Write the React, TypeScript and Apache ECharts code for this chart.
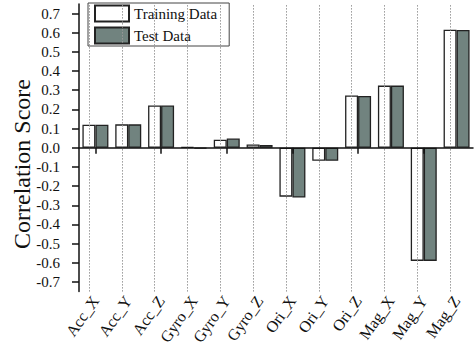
import React, { useEffect, useRef } from "react";
import * as echarts from "echarts";

const categories = ["Acc_X", "Acc_Y", "Acc_Z", "Gyro_X", "Gyro_Y", "Gyro_Z", "Ori_X", "Ori_Y", "Ori_Z", "Mag_X", "Mag_Y", "Mag_Z"];
const trainingData = [0.12, 0.122, 0.22, 0.003, 0.042, 0.017, -0.255, -0.068, 0.273, 0.324, -0.59, 0.615];
const testData = [0.12, 0.122, 0.22, -0.004, 0.048, 0.014, -0.26, -0.068, 0.27, 0.324, -0.59, 0.614];
const seriesNames = ["Training Data", "Test Data"];
const yAxisTitle = "Correlation Score";
const tickMin = -0.7;
const tickMax = 0.7;
const tickStep = 0.1;

const SERIF = '"Liberation Serif", "Times New Roman", serif';

export default function App() {
  const ref = useRef<HTMLDivElement>(null);
  useEffect(() => {
    if (!ref.current) return;
    const chart = echarts.init(ref.current, null, { renderer: "svg" });
    const option = {
      animation: false,
      backgroundColor: "#fff",
      grid: [
        { left: 79, right: 1, top: 3.9, bottom: 60.4 },
        { left: 79, right: 1, top: 13.5, bottom: 70 },
      ],
      legend: {
        data: seriesNames,
        orient: "vertical",
        left: 88,
        top: 3,
        itemWidth: 34,
        itemHeight: 16,
        itemGap: 4,
        padding: [1.5, 12, 1.5, 6],
        borderColor: "#444",
        borderWidth: 1,
        backgroundColor: "#fff",
        icon: "rect",
        textStyle: { fontFamily: SERIF, fontSize: 15, color: "#111" },
        selectedMode: false,
      },
      xAxis: [
        {
          type: "category",
          gridIndex: 0,
          data: categories,
          axisLine: { show: true, onZero: true, lineStyle: { color: "#111", width: 1.5 } },
          axisTick: { show: true, alignWithLabel: true, length: 6, lineStyle: { color: "#111", width: 1.5 } },
          axisLabel: { show: false },
          splitLine: { show: false },
          z: 5,
        },
        {
          type: "category",
          gridIndex: 0,
          position: "bottom",
          data: categories,
          axisLine: { show: false, onZero: false },
          axisTick: { show: false },
          axisLabel: { show: true, rotate: 55, fontFamily: SERIF, fontSize: 16, color: "#111", margin: 6, interval: 0 },
          splitLine: { show: false },
        },
        {
          type: "category",
          gridIndex: 1,
          data: categories,
          show: false,
        },
      ],
      yAxis: [
        {
          type: "value",
          gridIndex: 0,
          min: -0.75,
          max: 0.75,
          axisLine: { show: true, onZero: false, lineStyle: { color: "#111", width: 1.5 } },
          axisTick: { show: false },
          axisLabel: { show: false },
          splitLine: { show: false },
        },
        {
          type: "value",
          gridIndex: 1,
          min: tickMin,
          max: tickMax,
          interval: tickStep,
          axisLine: { show: false, onZero: false },
          axisTick: { show: true, length: 7, lineStyle: { color: "#111", width: 1.5 } },
          axisLabel: {
            show: true,
            margin: 19,
            fontFamily: SERIF,
            fontSize: 15,
            color: "#111",
            formatter: (v: number) => (Math.abs(v) < 1e-9 ? "0.0" : v.toFixed(1)),
          },
          splitLine: { show: false },
        },
      ],
      graphic: [
        {
          type: "text",
          x: 22,
          y: 164,
          rotation: Math.PI / 2,
          style: {
            text: yAxisTitle,
            fontFamily: SERIF,
            fontSize: 24,
            fill: "#111",
            align: "center",
            verticalAlign: "middle",
          },
        },
      ],
      series: [
        {
          name: seriesNames[0],
          type: "bar",
          xAxisIndex: 0,
          yAxisIndex: 0,
          data: trainingData,
          barWidth: 13,
          barGap: "0%",
          itemStyle: { color: "#ffffff", borderColor: "#222", borderWidth: 1.3 },
          markLine: {
            silent: true,
            symbol: "none",
            label: { show: false },
            lineStyle: { type: [1.5, 1.5], color: "#999", width: 1 },
            data: categories.map((c) => ({ xAxis: c })),
          },
        },
        {
          name: seriesNames[1],
          type: "bar",
          xAxisIndex: 0,
          yAxisIndex: 0,
          data: testData,
          barWidth: 13,
          barGap: "0%",
          itemStyle: { color: "#71837f", borderColor: "#222", borderWidth: 1.3 },
        },
      ],
    };
    chart.setOption(option as any);
    return () => chart.dispose();
  }, []);
  return <div ref={ref} style={{ position: "fixed", left: 0, top: 0, width: 474, height: 352 }} />;
}
